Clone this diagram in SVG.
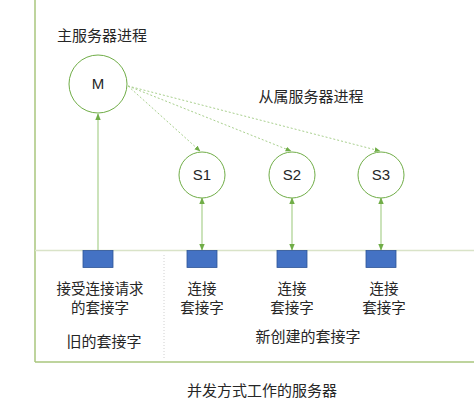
<svg xmlns="http://www.w3.org/2000/svg" width="474" height="412" viewBox="0 0 474 412">
<style>
text{font-family:"Noto Sans CJK SC","Liberation Sans",sans-serif;font-size:15px;fill:#262626;text-anchor:middle}
.lat{font-family:"Liberation Sans","Noto Sans CJK SC",sans-serif;font-size:15px}
.two{font-size:14.5px}
.node{fill:#fff;stroke:#70ad47;stroke-width:1}
.sock{fill:#4472c4;stroke:#2f5597;stroke-width:0.8}
.solid{stroke:#a9d08e;stroke-width:1.2;fill:none}
.dot{stroke:#a9d08e;stroke-width:1;stroke-dasharray:2 2;fill:none}
</style>
<defs>
<marker id="ah" viewBox="0 0 10 10" refX="9" refY="5" markerWidth="6" markerHeight="6" orient="auto-start-reverse">
<path d="M0,1 L10,5 L0,9 z" fill="#70ad47"/>
</marker>
</defs>
<g id="frame">
<line x1="35" y1="0" x2="35" y2="362" stroke="#a9c67c" stroke-width="1.5"/>
<line x1="35" y1="362" x2="474" y2="362" stroke="#a9c67c" stroke-width="1.5"/>
<line x1="35" y1="250.5" x2="474" y2="250.5" stroke="#d9e3c8" stroke-width="1.5"/>
<line x1="164" y1="255" x2="164" y2="358" stroke="#d0d0d0" stroke-width="1" stroke-dasharray="1 2"/>
</g>
<g id="connectors">
<line class="solid" x1="98" y1="250" x2="98" y2="114" marker-end="url(#ah)"/>
<line class="solid" x1="202" y1="198" x2="202" y2="250" marker-start="url(#ah)" marker-end="url(#ah)"/>
<line class="solid" x1="292" y1="198" x2="292" y2="250" marker-start="url(#ah)" marker-end="url(#ah)"/>
<line class="solid" x1="381" y1="198" x2="381" y2="250" marker-start="url(#ah)" marker-end="url(#ah)"/>
<line class="dot" x1="128" y1="86" x2="200" y2="151" marker-end="url(#ah)"/>
<line class="dot" x1="128" y1="86" x2="291" y2="151" marker-end="url(#ah)"/>
<line class="dot" x1="128" y1="86" x2="380" y2="151" marker-end="url(#ah)"/>
</g>
<g id="M">
<circle class="node" cx="98" cy="84" r="29"/>
<text class="lat" x="98" y="89">M</text>
</g>
<g id="S1">
<circle class="node" cx="202" cy="175" r="23"/>
<text class="lat" x="202" y="180">S1</text>
</g>
<g id="S2">
<circle class="node" cx="292" cy="175" r="23"/>
<text class="lat" x="292" y="180">S2</text>
</g>
<g id="S3">
<circle class="node" cx="381" cy="175" r="23"/>
<text class="lat" x="381" y="180">S3</text>
</g>
<g id="sock0">
<rect class="sock" x="83" y="250.5" width="30" height="17"/>
</g>
<g id="sock1">
<rect class="sock" x="187" y="250.5" width="30" height="17"/>
</g>
<g id="sock2">
<rect class="sock" x="277" y="250.5" width="30" height="17"/>
</g>
<g id="sock3">
<rect class="sock" x="366" y="250.5" width="30" height="17"/>
</g>
<g id="labels">
<text x="102" y="41">主服务器进程</text>
<text x="311" y="102">从属服务器进程</text>
<text class="two" x="100" y="294">接受连接请求</text>
<text class="two" x="100" y="313">的套接字</text>
<text x="104" y="347">旧的套接字</text>
<text class="two" x="202" y="294">连接</text>
<text class="two" x="202" y="313">套接字</text>
<text class="two" x="292" y="294">连接</text>
<text class="two" x="292" y="313">套接字</text>
<text class="two" x="384" y="294">连接</text>
<text class="two" x="384" y="313">套接字</text>
<text x="308" y="342">新创建的套接字</text>
<text x="262" y="396">并发方式工作的服务器</text>
</g>
</svg>
